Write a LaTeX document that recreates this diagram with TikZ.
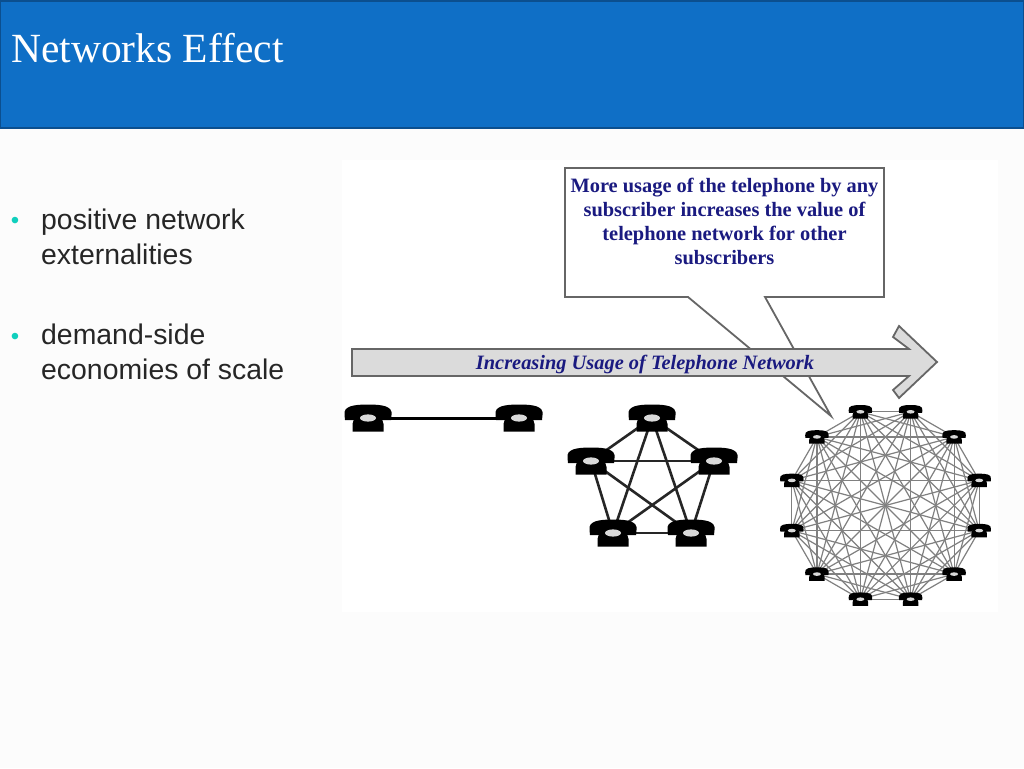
\documentclass[tikz,border=0pt]{standalone}
\usepackage{fontspec}
\setmainfont{Liberation Serif}
\newfontfamily\armfont{Liberation Sans}
\definecolor{barblue}{HTML}{0F6FC6}
\definecolor{barline}{HTML}{0B4F8F}
\definecolor{dotcyan}{HTML}{10CFBD}
\definecolor{inkblue}{HTML}{1A1A80}
\definecolor{slidebg}{HTML}{FCFCFC}
\tikzset{
    bodytext/.style={font=\armfont\fontsize{28.4}{34.5}\selectfont, align=left, anchor=base west, inner sep=0pt, text=black!85},
    dot/.style={font=\armfont\fontsize{24}{24}\selectfont, text=dotcyan, inner sep=0pt},
    picline/.style={draw=black!60, line width=1.8pt, line join=miter},
    bigphone/.style={minimum width=30pt, minimum height=18pt, inner sep=0pt},
    smallphone/.style={minimum width=14pt, minimum height=9pt, inner sep=0pt},
    phone/.pic={
        \fill[black] (-23.5,-3) .. controls (-25,-12) and (-14,-13.5) .. (0,-13.5) .. controls (14,-13.5) and (25,-12) .. (23.5,-3) -- (23,2) -- (14,2) -- (12,-3) -- (-12,-3) -- (-14,2) -- (-23,2) -- cycle;
        \fill[black] (-12,-6) -- (12,-6) -- (15.5,6) -- (15.5,13.5) -- (-15.5,13.5) -- (-15.5,6) -- cycle;
        \fill[black!15] (0,0) ellipse (8 and 3.6);
    }
}
\begin{document}
\begin{tikzpicture}[x=1pt,y=-1pt]
    \useasboundingbox (0,0) rectangle (1024,768);
    \fill[slidebg] (0,0) rectangle (1024,768);
    \fill[white] (342,160) rectangle (998,612);
    \draw[fill=barblue, draw=barline, line width=2.5pt] (0,1) rectangle (1024,128);
    \node[font=\fontsize{41.5}{41.5}\selectfont, text=white, anchor=base west, inner sep=0pt] (title) at (11,63) {Networks Effect};

    \node[dot] (dot1) at (15,223) {•}; \node[bodytext] (item1) at (41,264) {positive network\\externalities};
    \node[dot] (dot2) at (15,339) {•}; \node[bodytext] (item2) at (41,379) {demand-side\\economies of scale};

    % callout and arrow
    \draw[picline, fill=white] (565,168) -- (884,168) -- (884,297) -- (765,297) -- (831,416) -- (688,297) -- (565,297) -- cycle;
    \node[font=\bfseries\fontsize{20.4}{24}\selectfont, text=inkblue, align=center, inner sep=0pt, anchor=north] (note) at (724.5,178) {More usage of the telephone by any\\subscriber increases the value of\\telephone network for other\\subscribers};
    \draw[picline, fill=black!14] (352,349) -- (909,349) -- (893,337) -- (899,326) -- (937,362) -- (899,398) -- (893,390) -- (909,376) -- (352,376) -- cycle;
    \node[font=\bfseries\itshape\fontsize{20.4}{22}\selectfont, text=inkblue, inner sep=0pt] (usage) at (645,364) {Increasing Usage of Telephone Network};

    % two phones
    \node[bigphone] (a1) at (368,418) {}; \node[bigphone] (a2) at (519,418) {};
    \draw[black, line width=3pt] (a1) to (a2);
    \pic at (a1) {phone}; \pic at (a2) {phone};

    % five phones
    \node[bigphone] (b1) at (652,418) {}; \node[bigphone] (b2) at (714,461) {}; \node[bigphone] (b3) at (691,533) {};
    \node[bigphone] (b4) at (613,533) {}; \node[bigphone] (b5) at (591,461) {};
    \foreach \i/\j in {1/2,1/3,1/4,1/5,2/3,2/4,2/5,3/4,3/5,4/5} {
        \draw[black!85, line width=2.6pt] (b\i) to (b\j);
    }
    \foreach \i in {1,...,5} { \pic at (b\i) {phone}; }

    % twelve phones
    \foreach \i in {1,...,12} {
        \node[smallphone] (c\i) at ({885.5+97*cos(75-30*(\i-1))},{505.5-97*sin(75-30*(\i-1))}) {};
    }
    \foreach \i in {1,...,12} {
        \foreach \j in {1,...,12} {
            \ifnum\i<\j \draw[black!50, line width=1.2pt] (c\i) to (c\j); \fi
        }
    }
    \foreach \i in {1,...,12} { \pic[scale=.5] at (c\i) {phone}; }
\end{tikzpicture}
\end{document}
